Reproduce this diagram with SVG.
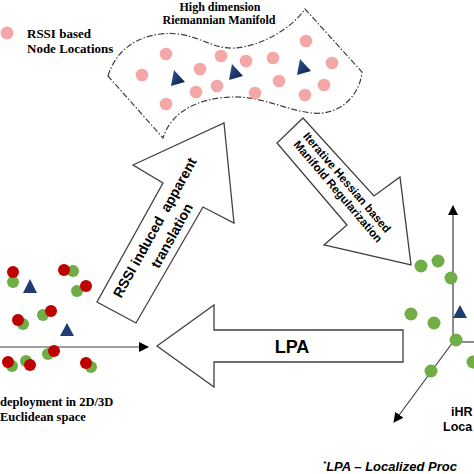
<svg xmlns="http://www.w3.org/2000/svg" width="474" height="474" viewBox="0 0 474 474">
<defs>
<linearGradient id="navy" x1="0" y1="0" x2="1" y2="1">
<stop offset="0" stop-color="#2f5597"/>
<stop offset="1" stop-color="#0b1f44"/>
</linearGradient>
<marker id="ah" viewBox="0 0 10 10" refX="9" refY="5" markerWidth="10" markerHeight="10" markerUnits="userSpaceOnUse" orient="auto">
<path d="M0,0 L10,5 L0,10 Z" fill="#000"/>
</marker>
<style>
.pink{fill:#f4a7a7}
.red{fill:#c00000}
.green{fill:#70ad47}
.tri{fill:url(#navy)}
.utri{fill:#1f3c73}
.big{fill:#fff;stroke:#404040;stroke-width:1.3;stroke-linejoin:miter}
.ser{font-family:"Liberation Serif","Times New Roman",serif;font-weight:bold;fill:#000}
.sans{font-family:"Liberation Sans",Arial,sans-serif;font-weight:bold;fill:#000}
.axis{stroke:#404040;stroke-width:1.2;fill:none}
</style>
</defs>
<rect width="474" height="474" fill="#fff"/>

<g id="legend">
<circle class="pink" cx="7" cy="33" r="6.5"/>
<text class="ser" x="27" y="38" font-size="13">RSSI based</text>
<text class="ser" x="27" y="53" font-size="13">Node Locations</text>
</g>

<g id="manifold">
<text class="ser" x="220" y="11" font-size="12" text-anchor="middle">High dimension</text>
<text class="ser" x="219" y="24" font-size="12" text-anchor="middle">Riemannian Manifold</text>
<path d="M108,76 C114,56 130,38 160,34 C195,30 210,50 235,48 C262,46 292,28 305,9 L362,72 C360,95 340,116 312,113 C285,110 262,96 232,97 C200,98 172,110 163,138 Z" fill="none" stroke="#404040" stroke-width="1.2" stroke-dasharray="6 2 1.5 2"/>
<g>
<circle class="pink" cx="142" cy="75" r="6.3"/>
<circle class="pink" cx="166" cy="54" r="6.3"/>
<circle class="pink" cx="166" cy="104" r="6.3"/>
<circle class="pink" cx="200" cy="69" r="6.3"/>
<circle class="pink" cx="196" cy="92" r="6.3"/>
<circle class="pink" cx="221" cy="56" r="6.3"/>
<circle class="pink" cx="217" cy="86" r="6.3"/>
<circle class="pink" cx="246" cy="61" r="6.3"/>
<circle class="pink" cx="255" cy="93" r="6.3"/>
<circle class="pink" cx="273" cy="58" r="6.3"/>
<circle class="pink" cx="279" cy="81" r="6.3"/>
<circle class="pink" cx="306" cy="41" r="6.3"/>
<circle class="pink" cx="305" cy="95" r="6.3"/>
<circle class="pink" cx="324" cy="85" r="6.3"/>
<circle class="pink" cx="332" cy="63" r="6.3"/>
</g>
<polygon class="tri" points="174,70 185,82 171,86"/>
<polygon class="tri" points="232,64 243,76 229,80"/>
<polygon class="tri" points="300,59 311,71 297,75"/>
</g>

<g id="euclidean">
<line class="axis" x1="0" y1="347" x2="148" y2="347" marker-end="url(#ah)"/>
<circle class="green" cx="13" cy="282" r="6"/><circle class="red" cx="13" cy="272" r="6"/>
<circle class="green" cx="73" cy="271" r="6"/><circle class="red" cx="64" cy="270" r="6"/>
<circle class="green" cx="77" cy="291" r="6"/><circle class="red" cx="86" cy="286" r="6"/>
<circle class="green" cx="43" cy="315" r="6"/><circle class="red" cx="51" cy="311" r="6"/>
<circle class="green" cx="23" cy="324" r="6"/><circle class="red" cx="18" cy="320" r="6"/>
<circle class="green" cx="48" cy="354" r="6"/><circle class="red" cx="54" cy="351" r="6"/>
<circle class="green" cx="12" cy="366" r="6"/><circle class="red" cx="8" cy="362" r="6"/>
<circle class="green" cx="26" cy="361" r="6"/><circle class="red" cx="30" cy="365" r="6"/>
<circle class="green" cx="91" cy="367" r="6"/><circle class="red" cx="86" cy="363" r="6"/>
<polygon class="utri" points="30,279 37,293 23,293"/>
<polygon class="utri" points="67,323 74,336 60,336"/>
<text class="ser" x="0" y="406" font-size="12.5">deployment in 2D/3D</text>
<text class="ser" x="0" y="421" font-size="12.5">Euclidean space</text>
</g>

<g id="ihrmr">
<line class="axis" x1="453" y1="342" x2="453" y2="206" marker-end="url(#ah)"/>
<line class="axis" x1="453" y1="342" x2="474" y2="342"/>
<line class="axis" x1="453" y1="342" x2="394" y2="422" marker-end="url(#ah)"/>
<circle class="green" cx="421" cy="266" r="6.5"/>
<circle class="green" cx="438" cy="261" r="6.5"/>
<circle class="green" cx="451" cy="278" r="6.5"/>
<circle class="green" cx="411" cy="314" r="6.5"/>
<circle class="green" cx="434" cy="323" r="6.5"/>
<circle class="green" cx="456" cy="340" r="6.5"/>
<circle class="green" cx="431" cy="371" r="6.5"/>
<circle class="green" cx="473" cy="362" r="6.5"/>
<polygon class="utri" points="460,305 467,318 453,318"/>
<text class="sans" x="451" y="416" font-size="12.5">iHR</text>
<text class="sans" x="443" y="431" font-size="12.5">Loca</text>
</g>

<g id="connectors">
<g id="arrow-rssi">
<polygon class="big" points="224,123 234,223 203,207 136,323 97,302 163,183 133,165"/>
<text class="sans" font-size="14" text-anchor="middle" transform="translate(159,230) rotate(-61)" style="white-space:pre">RSSI induced  apparent</text>
<text class="sans" font-size="14" text-anchor="middle" transform="translate(176,238) rotate(-61)">translation</text>
</g>
<g id="arrow-hessian">
<polygon class="big" points="303,118 374,196 400,177 411,265 324,245 347,225 277,143"/>
<text class="sans" font-size="11.5" text-anchor="middle" transform="translate(344,185) rotate(49.5)">Iterative Hessian based</text>
<text class="sans" font-size="11.5" text-anchor="middle" transform="translate(335,194) rotate(49.5)">Manifold Regularization</text>
</g>
<g id="arrow-lpa">
<polygon class="big" points="157,346 214,305 214,330 403,330 403,362 214,362 214,387"/>
<text class="sans" font-size="18" x="292" y="353" text-anchor="middle">LPA</text>
</g>
</g>

<g id="footnote">
<text class="sans" font-style="italic" font-size="13" x="323" y="471"><tspan font-size="8" dy="-5">*</tspan><tspan dy="5">LPA – Localized Proc</tspan></text>
</g>
</svg>
